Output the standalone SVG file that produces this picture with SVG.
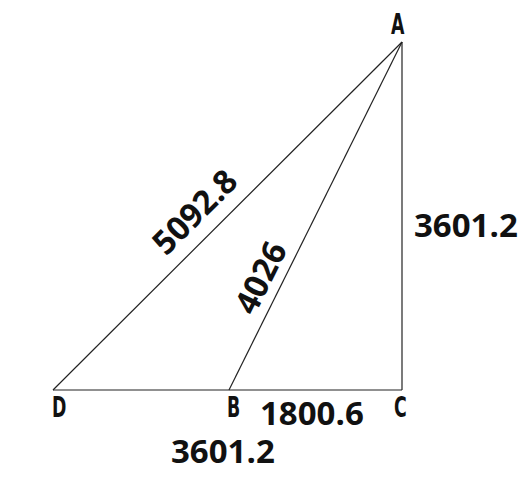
<svg xmlns="http://www.w3.org/2000/svg" width="530" height="481" viewBox="0 0 530 481">
<style>
.ln{stroke:#222;stroke-width:1.2;fill:none}
.num{font-family:"Open Sans","Liberation Sans",sans-serif;font-weight:bold;font-size:33px;fill:#111}
.lbl{font-family:"DejaVu Sans","Liberation Sans",sans-serif;font-weight:bold;font-size:28px;fill:#111}
</style>
<rect width="530" height="481" fill="#fff"/>
<g id="connectors">
<line class="ln" x1="53" y1="390" x2="402" y2="42"/>
<line class="ln" x1="229" y1="390" x2="402" y2="42"/>
<line class="ln" x1="402" y1="390" x2="402" y2="42"/>
<line class="ln" x1="53" y1="390" x2="402" y2="390"/>
</g>
<g id="A"><text class="lbl" transform="translate(391,34) scale(0.62,1)">A</text></g>
<g id="D"><text class="lbl" transform="translate(52,417) scale(0.62,1)">D</text></g>
<g id="B"><text class="lbl" transform="translate(227,417) scale(0.62,1)">B</text></g>
<g id="C"><text class="lbl" transform="translate(394,417) scale(0.62,1)">C</text></g>
<g id="labels">
<text class="num" transform="translate(203,220) rotate(-45)" text-anchor="middle">5092.8</text>
<text class="num" transform="translate(271,283) rotate(-63.6)" text-anchor="middle">4026</text>
<text class="num" x="414" y="237">3601.2</text>
<text class="num" x="260" y="425">1800.6</text>
<text class="num" x="171" y="463">3601.2</text>
</g>
</svg>
